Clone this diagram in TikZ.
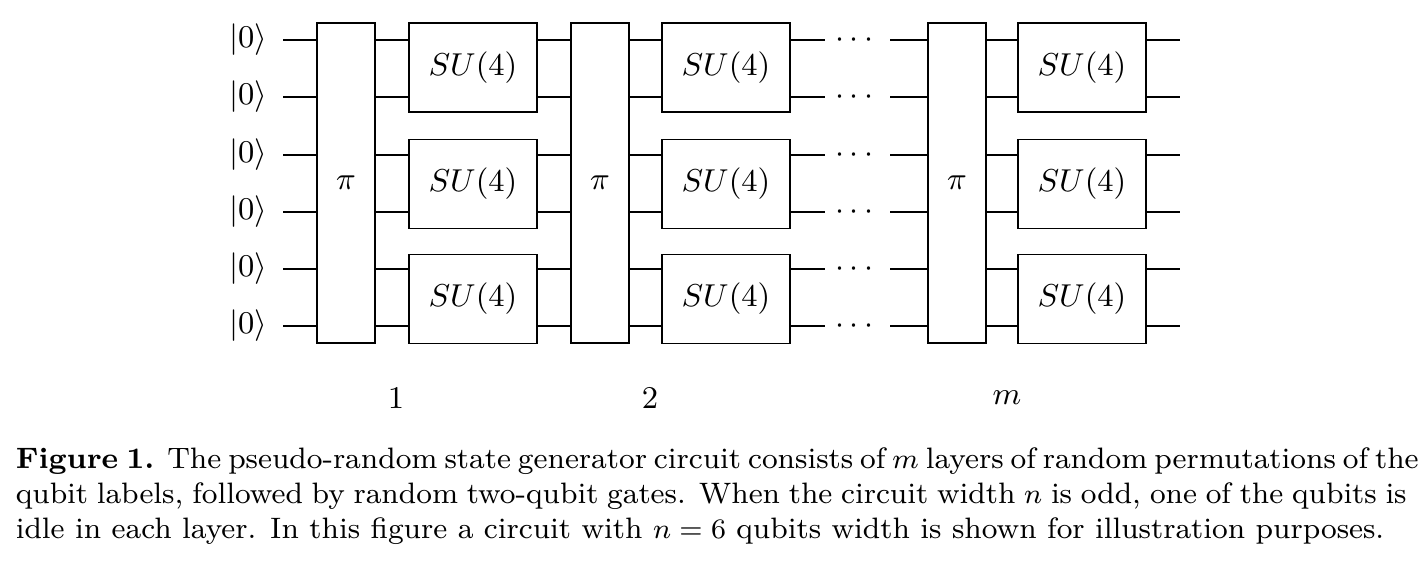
\documentclass[tikz,border=0pt]{standalone}
\usepackage{amsmath}
\begin{document}
\begin{tikzpicture}[x=0.01cm,y=-0.01cm,line width=0.45pt,
  every node/.style={font=\fontsize{9}{10}\selectfont},
  captext/.style={anchor=base west,inner sep=0,font=\fontsize{8.4}{10}\selectfont},
  pibox/.style={draw,fill=white,minimum width=0.58cm,minimum height=3.2cm,inner sep=0},
  subox/.style={draw,fill=white,minimum width=1.28cm,minimum height=0.89cm,inner sep=0}]
\useasboundingbox (0,0) rectangle (1422,584);
\foreach \y [count=\i] in {40,97,155,212,269,326}{
  \node (k\i) at (248,\y) {$|0\rangle$};
  \coordinate (a\i) at (283,\y); \coordinate (b\i) at (825,\y);
  \coordinate (c\i) at (890,\y); \coordinate (d\i) at (1180,\y);
  \draw (a\i) -- (b\i); \draw (c\i) -- (d\i);
  \node (dots\i) at (857,\y) {$\cdots$};
}
\foreach \x [count=\j] in {346,600,957}{
  \node[pibox] (p\j) at (\x,183) {$\pi$};
}
\foreach \x [count=\j] in {473,726,1082}{
  \node[subox] (s\j a) at (\x,67.5) {$SU(4)$};
  \node[subox] (s\j b) at (\x,184) {$SU(4)$};
  \node[subox] (s\j c) at (\x,299) {$SU(4)$};
}
\node (l1) at (396,398) {$1$};
\node (l2) at (650,398) {$2$};
\node (l3) at (1007,398) {$m$};
\node[captext] (cap1) at (15,468) {\makebox[13.9cm][s]{\textbf{Figure 1.} The pseudo-random state generator circuit consists of $m$ layers of random permutations of the}};
\node[captext] (cap2) at (15,503) {\makebox[13.9cm][s]{qubit labels, followed by random two-qubit gates. When the circuit width $n$ is odd, one of the qubits is}};
\node[captext] (cap3) at (15,538) {idle in each layer. In this figure a circuit with $n=6$ qubits width is shown for illustration purposes.};
\end{tikzpicture}
\end{document}
